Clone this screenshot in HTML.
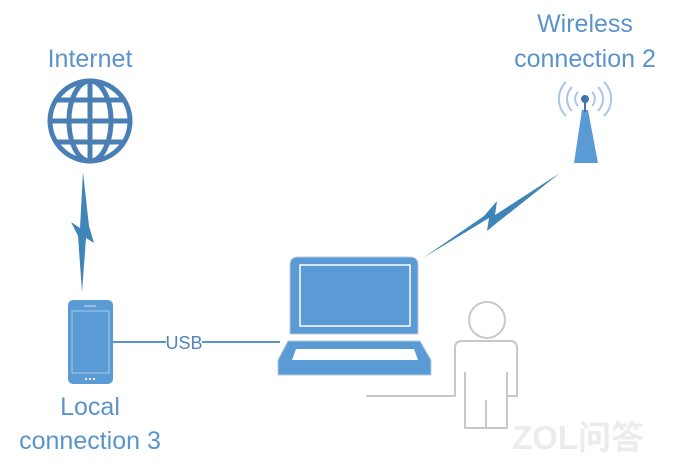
<!DOCTYPE html>
<html><head><style>body{margin:0;background:#fff}</style></head><body>
<svg width="675" height="471" viewBox="0 0 675 471" xmlns="http://www.w3.org/2000/svg" font-family="Liberation Sans, sans-serif">
<g fill="#5b93cc" font-size="25" text-anchor="middle">
<text x="90" y="67">Internet</text>
<text x="585" y="32">Wireless</text>
<text x="585" y="67">connection 2</text>
<text x="90" y="415">Local</text>
<text x="90" y="449">connection 3</text>
</g>
<g fill="none" stroke="#4a7fb5" stroke-width="5">
<circle cx="90" cy="121" r="40"/>
<ellipse cx="90" cy="121" rx="21" ry="40"/>
<line x1="90" y1="81" x2="90" y2="161"/>
<line x1="50" y1="121" x2="130" y2="121"/>
<line x1="57" y1="100" x2="123" y2="100"/>
<line x1="57" y1="142" x2="123" y2="142"/>
</g>
<polygon points="83,172 89,226 94,243 86,238 82,292 78,236 71,222 80,228" fill="#3f85b8"/>
<polygon points="423,258 484,216 497,201 495,215 560,173 498,222 487,231 489,218" fill="#3f85b8"/>
<rect x="68" y="300" width="45" height="84" rx="5" fill="#5b9bd5"/>
<rect x="72" y="311" width="37" height="62" fill="none" stroke="#a9c8ea" stroke-width="1"/>
<line x1="84" y1="306" x2="96" y2="306" stroke="#cfe0f3" stroke-width="1"/>
<g fill="#e0ecf8"><circle cx="86" cy="379" r="1.2"/><circle cx="90" cy="379" r="1.2"/><circle cx="94" cy="379" r="1.2"/></g>
<line x1="113" y1="342" x2="166" y2="342" stroke="#5b93cc" stroke-width="2"/>
<line x1="202" y1="342" x2="280" y2="342" stroke="#5b93cc" stroke-width="2"/>
<text x="184" y="349" font-size="18" fill="#4f86bf" text-anchor="middle">USB</text>
<path d="M290,334 V265 Q290,257 298,257 H410 Q418,257 418,265 V334 Z" fill="#5b9bd5" stroke="#b8c8d8" stroke-width="1"/>
<rect x="300" y="265" width="110" height="61" fill="none" stroke="#fff" stroke-width="1.5"/>
<path d="M288,341 H420 L431,360 V375 H278 V360 Z" fill="#5b9bd5" stroke="#b8c8d8" stroke-width="1"/>
<polygon points="296,349 414,349 418,360 292,360" fill="#fff"/>
<g fill="none" stroke="#c8c8c8" stroke-width="2">
<circle cx="487" cy="320" r="18"/>
<path d="M366,396 H455 V348 Q455,341 462,341 H510 Q517,341 517,348 V396 H507 M465,372 V428 H507 V372 M486,400 V428"/>
</g>
<polygon points="582,110 588,110 598,163 574,163" fill="#5b9bd5"/>
<line x1="585" y1="100" x2="585" y2="112" stroke="#3f75aa" stroke-width="2"/>
<circle cx="585" cy="99" r="4" fill="#3f75aa"/>
<g fill="none" stroke="#a9c6e6" stroke-width="2">
<path d="M578,92 A10,10 0 0 0 578,106 M592,92 A10,10 0 0 1 592,106"/>
<path d="M572,87 A17,17 0 0 0 572,111 M598,87 A17,17 0 0 1 598,111"/>
<path d="M566,82 A24,24 0 0 0 566,116 M604,82 A24,24 0 0 1 604,116"/>
</g>
<text x="578" y="449" font-size="33" font-weight="bold" fill="#ececec" text-anchor="middle" font-family="Liberation Sans, Noto Sans CJK SC, sans-serif">ZOL问答</text>
</svg>
</body></html>
